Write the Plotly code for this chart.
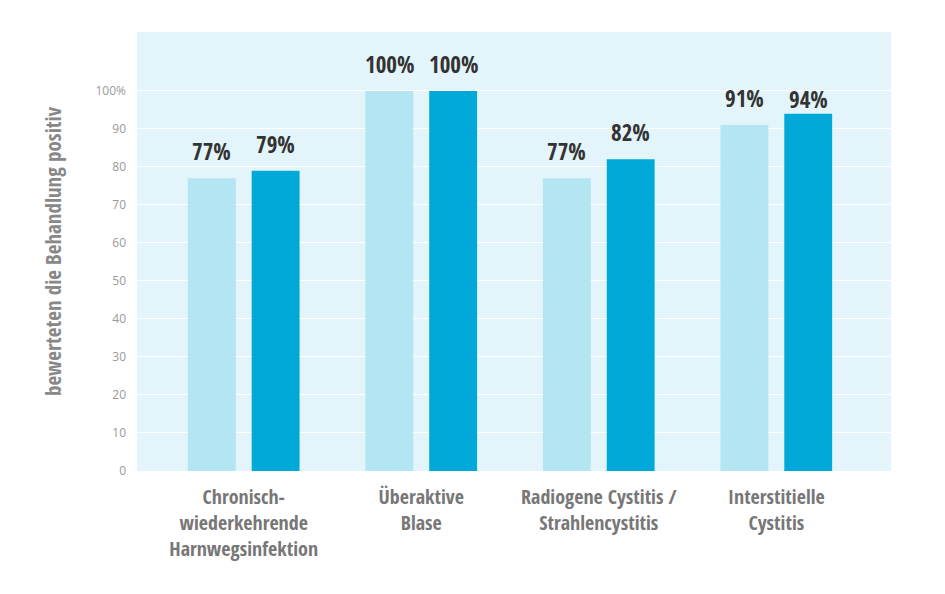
import plotly.graph_objects as go

categories = ["Chronisch-<br>wiederkehrende<br>Harnwegsinfektion", "Überaktive<br>Blase",
              "Radiogene Cystitis /<br>Strahlencystitis", "Interstitielle<br>Cystitis"]
series_a = [77, 100, 77, 91]
series_b = [79, 100, 82, 94]
ytick_vals = [0, 10, 20, 30, 40, 50, 60, 70, 80, 90, 100]
ytick_text = ["0", "10", "20", "30", "40", "50", "60", "70", "80", "90", "100%"]

# label vertical padding (px) for each bar: series_a then series_b
pad_a = [9, 9, 9, 9]
pad_b = [9, 9, 9, -3]

COND = "Open Sans Condensed, Liberation Sans Narrow, DejaVu Sans Condensed, Roboto Condensed, Open Sans, sans-serif"
LIGHT = "#b3e5f3"
DARK = "#00a9d8"

xs = list(range(len(categories)))
fig = go.Figure()
fig.add_bar(x=xs, y=series_a, marker_color=LIGHT, marker_line_width=0, hoverinfo="skip")
fig.add_bar(x=xs, y=series_b, marker_color=DARK, marker_line_width=0, hoverinfo="skip")

for i in xs:
    for val, shift, pad in ((series_a[i], -32, pad_a[i]), (series_b[i], 32, pad_b[i])):
        fig.add_annotation(x=i, y=val, xref="x", yref="y", text=f"{val}%", showarrow=False,
                           xshift=shift, yshift=pad, yanchor="bottom",
                           font=dict(family=COND, size=23, color="#333333", weight="bold"))

fig.update_layout(
    width=945, height=594,
    margin=dict(l=137, r=54, t=32, b=123),
    paper_bgcolor="white", plot_bgcolor="#e3f5fa",
    barmode="group", bargap=0.281, bargroupgap=0.25,
    showlegend=False,
    font=dict(family="Open Sans, sans-serif"),
)
fig.update_xaxes(range=[-0.601, 3.646], tickvals=xs, ticktext=categories, showgrid=False,
                 zeroline=False, showline=False, ticks="", ticklabelstandoff=12,
                 tickfont=dict(family=COND, size=20, color="#777777", weight="bold"))
fig.update_yaxes(range=[0, 115.5], tickvals=ytick_vals, ticktext=ytick_text,
                 showgrid=True, gridcolor="white", gridwidth=1, zeroline=False, showline=False,
                 ticks="", ticklabelstandoff=10,
                 tickfont=dict(family="Open Sans, sans-serif", size=12, color="#999999"),
                 title=dict(text="bewerteten die Behandlung positiv", standoff=28,
                            font=dict(family=COND, size=21, color="#888888", weight="bold")))

fig.write_html("out.html")
